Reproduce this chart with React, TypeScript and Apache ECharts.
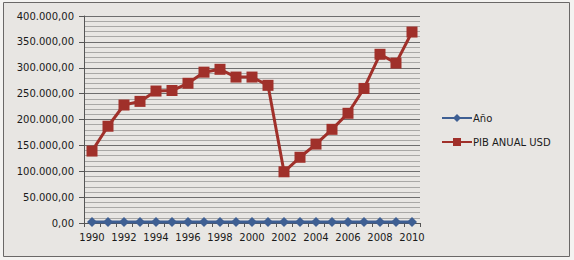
import React, { useEffect, useRef } from "react";
import * as echarts from "echarts";

const years = ["1990","1991","1992","1993","1994","1995","1996","1997","1998","1999","2000","2001","2002","2003","2004","2005","2006","2007","2008","2009","2010"];
const anoValues = [1990,1991,1992,1993,1994,1995,1996,1997,1998,1999,2000,2001,2002,2003,2004,2005,2006,2007,2008,2009,2010];
const pibValues = [139000,187000,228000,235000,255000,256000,270000,291500,297000,282000,282000,266000,99000,127000,152500,181000,212000,260000,326000,309000,369000];

function fmt(v: number): string {
  const s = Math.round(v).toString().replace(/\B(?=(\d{3})+(?!\d))/g, ".");
  return s + ",00";
}

export default function App() {
  const ref = useRef<HTMLDivElement>(null);
  useEffect(() => {
    if (!ref.current) return;
    const chart = echarts.init(ref.current, null, { renderer: "svg" });
    const font = "DejaVu Sans";
    chart.setOption({
      animation: false,
      backgroundColor: "#f4f3f1",
      textStyle: { fontFamily: font },
      graphic: [
        {
          type: "rect",
          shape: { x: 3.5, y: 2.5, width: 566, height: 254 },
          style: { fill: "#e8e6e3", stroke: "#6a6867", lineWidth: 1 },
          z: -10,
        },
      ],
      grid: { left: 84, right: 154, top: 16, bottom: 37 },
      legend: {
        orient: "vertical",
        left: 436,
        top: 108,
        itemWidth: 30,
        itemHeight: 10,
        itemGap: 14,
        textStyle: { fontFamily: font, fontSize: 10, color: "#1a1a1a", padding: [0, 0, 0, -4] },
        data: ["Año", "PIB ANUAL USD"],
      },
      xAxis: {
        type: "category",
        data: years,
        boundaryGap: true,
        axisLine: { lineStyle: { color: "#555", width: 1 } },
        axisTick: { show: true, interval: 0, length: 4, lineStyle: { color: "#555" } },
        axisLabel: { interval: 1, color: "#1a1a1a", fontSize: 10, fontFamily: font, margin: 9 },
        splitLine: { show: false },
      },
      yAxis: {
        type: "value",
        min: 0,
        max: 400000,
        interval: 50000,
        axisLine: { show: true, lineStyle: { color: "#555" } },
        axisTick: { show: true, length: 5, lineStyle: { color: "#555" } },
        axisLabel: { formatter: (v: number) => fmt(v), color: "#1a1a1a", fontSize: 10, fontFamily: font, margin: 10 },
        splitLine: { show: true, lineStyle: { color: "#6e6e6e", width: 1 } },
        minorTick: { show: false, splitNumber: 5 },
        minorSplitLine: { show: true, lineStyle: { color: "#a9a8a6", width: 1 } },
      },
      series: [
        {
          name: "Año",
          type: "line",
          data: anoValues,
          symbol: "diamond",
          symbolSize: 10,
          showAllSymbol: true,
          lineStyle: { color: "#3e5f93", width: 3 },
          itemStyle: { color: "#3e5f93" },
          z: 3,
        },
        {
          name: "PIB ANUAL USD",
          type: "line",
          data: pibValues,
          symbol: "rect",
          symbolSize: 11,
          showAllSymbol: true,
          lineStyle: { color: "#a0302a", width: 3 },
          itemStyle: { color: "#a0302a" },
          z: 4,
        },
      ],
    });
    return () => chart.dispose();
  }, []);
  return <div ref={ref} style={{ position: "fixed", left: 0, top: 0, width: 574, height: 260 }} />;
}
